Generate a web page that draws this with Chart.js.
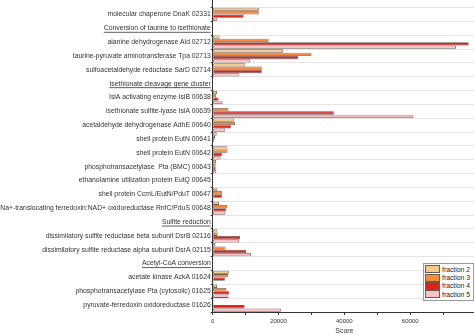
<!DOCTYPE html>
<html>
<head>
<meta charset="utf-8">
<title>Protein scores per fraction</title>
<script src="https://cdn.jsdelivr.net/npm/chart.js@4"></script>
<style>
  html, body { margin: 0; padding: 0; background: #fff; overflow: hidden; }
  #wrap { position: relative; width: 474px; height: 335px; overflow: hidden; }
  #myChart { position: absolute; left: 0; top: -7px; }
  #legend {
    position: absolute; left: 423px; top: 263px; width: 48px;
    border: 1px solid #9a9a9a; background: #fff; padding: 1px 0 1px 1px;
    font: 6.8px "Liberation Sans", Arial, sans-serif; color: #222;
  }
  .item { display: flex; align-items: center; height: 8.4px; color: #222; }
  .swatch { width: 13px; height: 6px; border: 1px solid #6b5a50; margin-right: 2px; }
</style>
</head>
<body>
<div id="wrap">
  <canvas id="myChart" width="476" height="342"></canvas>
  <div id="legend"></div>
</div>
<script>
// rows from top to bottom; the first one is the row cut off at the top
const genes = [
  '',
  'molecular chaperone DnaK 02331',
  'Conversion of taurine to isethionate',
  'alanine dehydrogenase Ald 02712',
  'taurine-pyruvate aminotransferase Tpa 02713',
  'sulfoacetaldehyde reductase SarD 02714',
  'Isethionate cleavage gene cluster',
  'IslA activating enzyme IslB 00638',
  'isethionate sulfite-lyase IslA 00639',
  'acetaldehyde dehydrogenase AdhE 00640',
  'shell protein EutN 00641',
  'shell protein EutN 00642',
  'phosphotransacetylase  Pta (BMC) 00643',
  'ethanolamine utilization protein EutQ 00645',
  'shell protein CcmL/EutN/PduT 00647',
  'Na+-translocating ferredoxin:NAD+ oxidoreductase RnfC/PduS 00648',
  'Sulfite reduction',
  'dissimilatory sulfite reductase beta subunit DsrB 02116',
  'dissimilatory sulfite reductase alpha subunit DsrA 02115',
  'Acetyl-CoA conversion',
  'acetate kinase AckA 01624',
  'phosphotransacetylase Pta (cytosolic) 01625',
  'pyruvate-ferredoxin oxidoreductase 01626'
];

// group headings, drawn underlined
const headers = [
  'Conversion of taurine to isethionate',
  'Isethionate cleavage gene cluster',
  'Sulfite reduction',
  'Acetyl-CoA conversion'
];

const fraction2 = [null, 14000, null, 2100, 21400, 9900, null, 1300, 300, 6400, 1200, 4500, 1000, 200, 1400, 1900, null, 1400, 800, null, 4900, 1300, 300];
const fraction3 = [null, 14000, null, 17000, 30000, 14900, null, 1000, 4800, 6800, 700, 4500, 900, 200, 2800, 4400, null, 1500, 3900, null, 4600, 4200, 300];
const fraction4 = [null, 9400, null, 77800, 25900, 14900, null, 1800, 36800, 5600, 400, 2800, 900, 150, 2800, 4100, null, 8300, 10200, null, 3700, 5100, 9700];
const fraction5 = [null, 1400, null, 73900, 11400, 8100, null, 3000, 61000, 3800, 200, 2400, 1100, 100, 300, 3800, null, 8000, 11600, null, 300, 4800, 20700];

const seriesNames = ['fraction 2', 'fraction 3', 'fraction 4', 'fraction 5'];
const seriesData = [fraction2, fraction3, fraction4, fraction5];
const seriesColors = ['#f9c98a', '#f68b3e', '#dd221c', '#f8c2c6'];

const xTickLabels = [0, 20000, 40000, 60000];

const textColor = '#333';
const labelSize = 6.8;
const family = '"Liberation Sans", Arial, sans-serif';
Chart.defaults.font.family = family;

// underline the group headings on the y axis
const underlineHeaders = {
  id: 'underlineHeaders',
  afterDraw(chart) {
    const y = chart.scales.y;
    const c = chart.ctx;
    c.save();
    c.font = labelSize + 'px ' + family;
    c.strokeStyle = '#333';
    c.lineWidth = 0.8;
    genes.forEach((label, i) => {
      if (!headers.includes(label)) return;
      const py = y.getPixelForTick(i) + 4;
      const right = y.right - 2;
      const w = c.measureText(label).width;
      c.beginPath();
      c.moveTo(right - w, py);
      c.lineTo(right, py);
      c.stroke();
    });
    c.restore();
  }
};

const ctx = document.getElementById('myChart').getContext('2d');
const chart = new Chart(ctx, {
  type: 'bar',
  data: {
    labels: genes,
    datasets: seriesNames.map((name, i) => ({
      label: name,
      data: seriesData[i],
      backgroundColor: seriesColors[i],
      borderColor: '#6b5a50',
      borderWidth: 0.8,
      borderSkipped: false,
      categoryPercentage: 0.96,
      barPercentage: 1
    }))
  },
  options: {
    indexAxis: 'y',
    responsive: false,
    animation: false,
    layout: { padding: { top: 0.7, left: 0, right: 0, bottom: 0 } },
    plugins: {
      legend: { display: false },
      tooltip: { enabled: false }
    },
    scales: {
      x: {
        min: 0,
        max: 80000,
        ticks: {
          stepSize: 10000,
          autoSkip: false,
          maxRotation: 0,
          padding: 3,
          color: textColor,
          font: { size: 6 },
          callback: v => xTickLabels.includes(v) ? String(v) : ''
        },
        grid: { drawOnChartArea: false, tickLength: 3, tickColor: '#333' },
        border: { color: '#333' },
        title: { display: true, text: 'Score', color: textColor, font: { size: 7 }, padding: 0 },
        afterFit(s) { s.height = 23; s.paddingLeft = 0; s.paddingRight = 0; }
      },
      y: {
        ticks: { autoSkip: false, padding: 0, color: textColor, font: { size: labelSize } },
        grid: { color: '#e6e6e6', tickLength: 2, tickColor: '#333' },
        border: { color: '#333' },
        afterFit(s) { s.width = 212.7; s.paddingTop = 0; s.paddingBottom = 0; }
      }
    }
  },
  plugins: [underlineHeaders]
});

// legend box
const legend = document.getElementById('legend');
seriesNames.forEach((name, i) => {
  const item = document.createElement('div');
  item.className = 'item';
  const sw = document.createElement('span');
  sw.className = 'swatch';
  sw.style.background = seriesColors[i];
  const txt = document.createElement('span');
  txt.textContent = name;
  item.appendChild(sw);
  item.appendChild(txt);
  legend.appendChild(item);
});
</script>
</body>
</html>
